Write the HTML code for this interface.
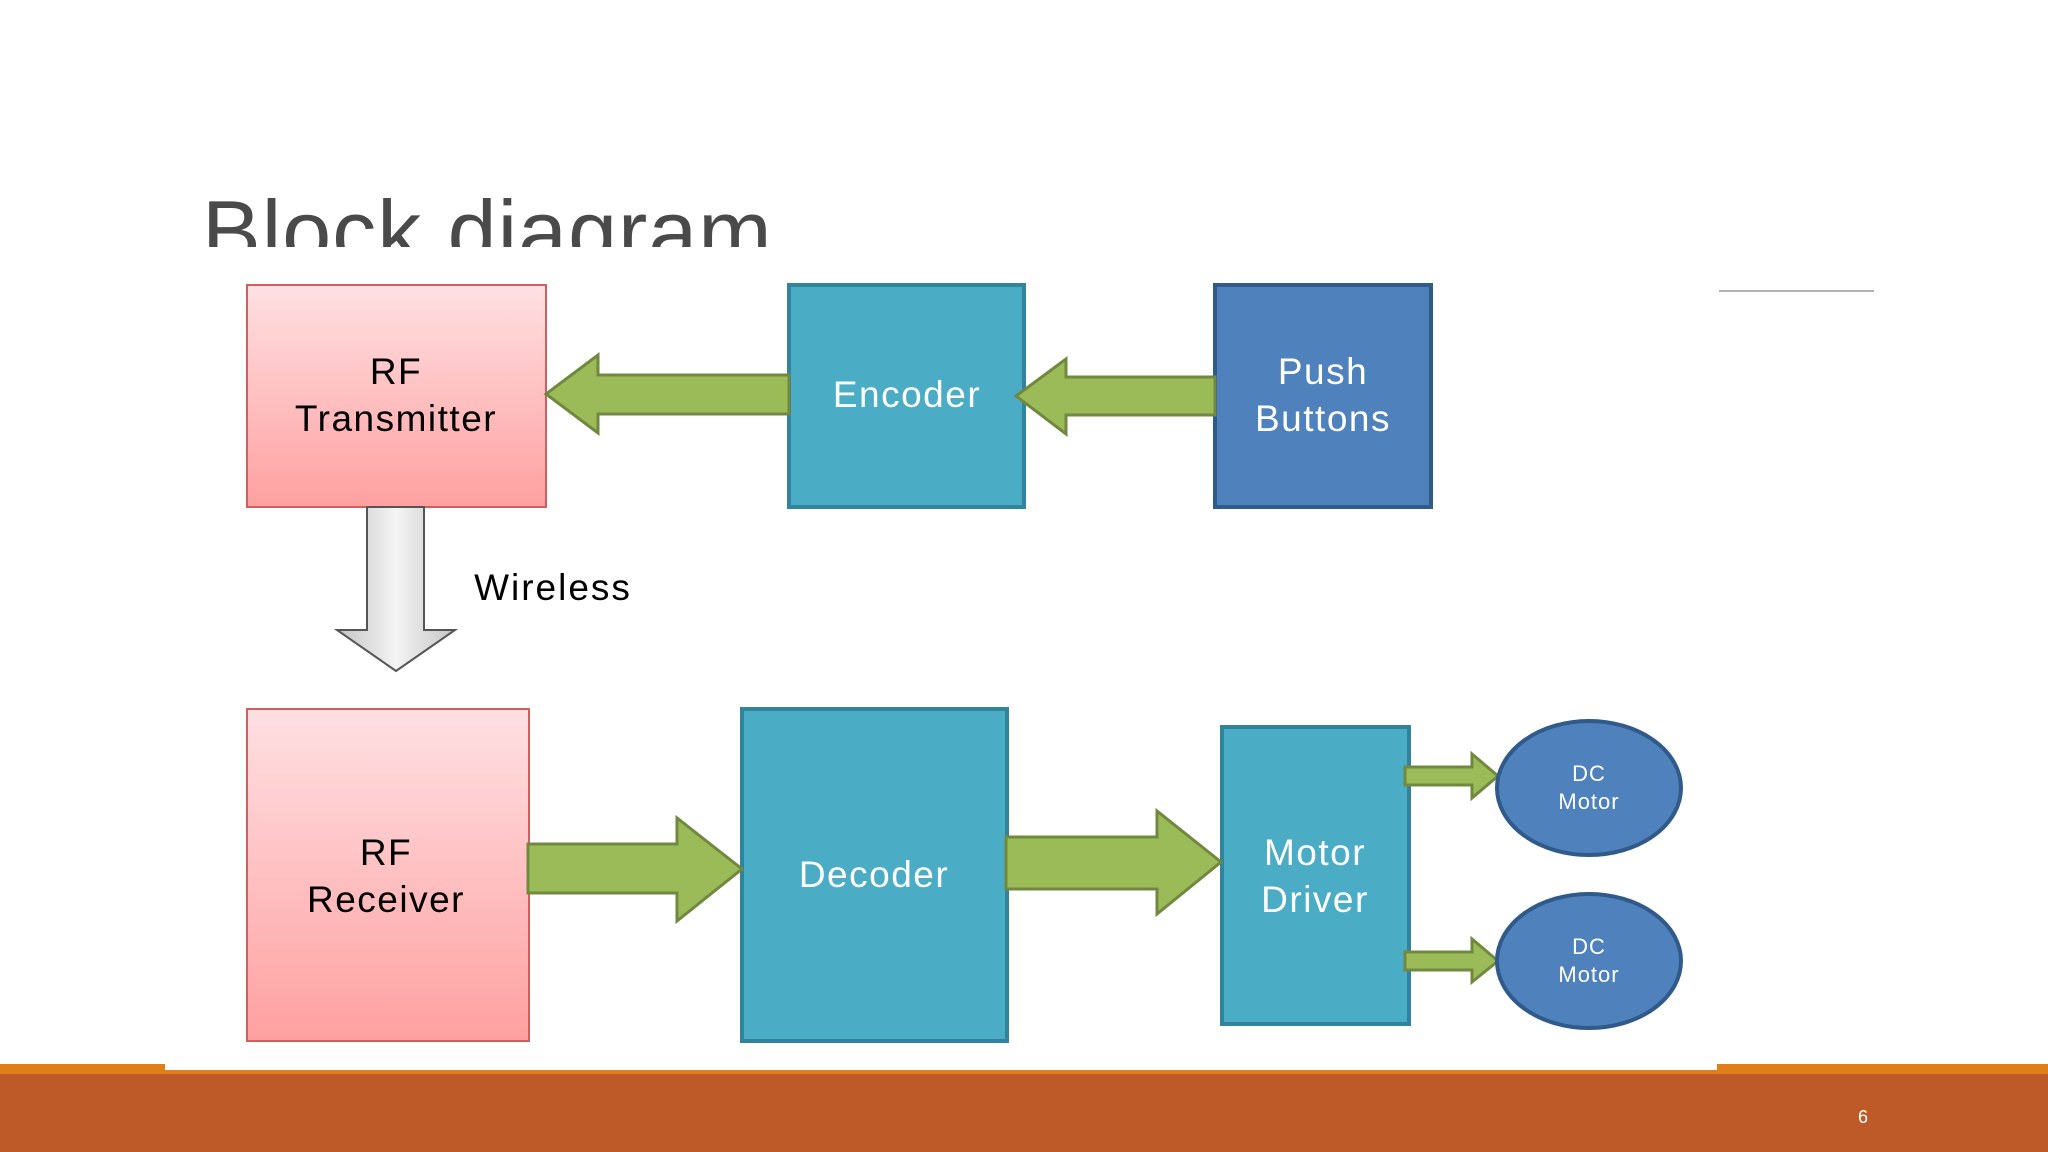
<!DOCTYPE html>
<html><head><meta charset="utf-8"><style>
html,body{margin:0;padding:0;}
body{width:2048px;height:1152px;overflow:hidden;background:#fff;position:relative;font-family:"Liberation Sans",sans-serif;}
</style></head><body>
<svg width="2048" height="1152" viewBox="0 0 2048 1152" style="position:absolute;left:0;top:0">
<defs>
<linearGradient id="pink" x1="0" y1="0" x2="0" y2="1"><stop offset="0" stop-color="#FFE0E3"/><stop offset="1" stop-color="#FFA0A0"/></linearGradient>
<linearGradient id="gray" x1="0" y1="0" x2="1" y2="0"><stop offset="0" stop-color="#c4c4c4"/><stop offset="0.5" stop-color="#f4f4f4"/><stop offset="1" stop-color="#c4c4c4"/></linearGradient>
<clipPath id="tc"><rect x="0" y="0" width="2048" height="247"/></clipPath>
</defs>
<text x="202" y="262" font-size="88" fill="#4a4a4a" clip-path="url(#tc)" font-family="Liberation Sans, sans-serif" letter-spacing="1">Block diagram</text>
<line x1="1719" y1="291" x2="1874" y2="291" stroke="#999" stroke-width="1.5"/>
<!-- bottom bar -->
<rect x="0" y="1064" width="2048" height="12" fill="#E07E1A"/>
<rect x="165" y="1064" width="1552" height="6" fill="#fff"/>
<rect x="0" y="1074" width="2048" height="78" fill="#BE5A28"/>
<text x="1858" y="1123" font-size="18" fill="#fff">6</text>

<g font-family="Liberation Sans, sans-serif" text-anchor="middle" font-size="37" letter-spacing="1.5">
<rect x="247" y="285" width="299" height="222" fill="url(#pink)" stroke="#D06060" stroke-width="2"/>
<text x="396" y="384" fill="#000">RF</text>
<text x="396" y="431" fill="#000">Transmitter</text>
<rect x="789" y="285" width="235" height="222" fill="#4BACC6" stroke="#31849B" stroke-width="4"/>
<text x="907" y="407" fill="#fff">Encoder</text>
<rect x="1215" y="285" width="216" height="222" fill="#4F81BD" stroke="#2F5A8A" stroke-width="4"/>
<text x="1323" y="384" fill="#fff">Push</text>
<text x="1323" y="431" fill="#fff">Buttons</text>
<polygon points="789,375 598,375 598,355 546,394 598,433 598,414 789,414" fill="#9BBB59" stroke="#71893F" stroke-width="3"/>
<polygon points="1215,377 1066,377 1066,359 1016,396 1066,434 1066,415 1215,415" fill="#9BBB59" stroke="#71893F" stroke-width="3"/>
<polygon points="367,507 424,507 424,630 455,630 396,671 337,630 367,630" fill="url(#gray)" stroke="#555" stroke-width="2"/>
<text x="553" y="600" fill="#000" font-size="37" letter-spacing="2">Wireless</text>
<rect x="247" y="709" width="282" height="332" fill="url(#pink)" stroke="#D06060" stroke-width="2"/>
<text x="386" y="865" fill="#000">RF</text>
<text x="386" y="912" fill="#000">Receiver</text>
<rect x="742" y="709" width="265" height="332" fill="#4BACC6" stroke="#31849B" stroke-width="4"/>
<text x="874" y="887" fill="#fff">Decoder</text>
<rect x="1222" y="727" width="187" height="297" fill="#4BACC6" stroke="#31849B" stroke-width="4"/>
<text x="1315" y="865" fill="#fff">Motor</text>
<text x="1315" y="912" fill="#fff">Driver</text>
<polygon points="528,844 677,844 677,818 742,869 677,921 677,893 528,893" fill="#9BBB59" stroke="#71893F" stroke-width="3"/>
<polygon points="1006,837 1157,837 1157,811 1221,862 1157,914 1157,889 1006,889" fill="#9BBB59" stroke="#71893F" stroke-width="3"/>
<polygon points="1405,767 1472,767 1472,754 1498,776 1472,798 1472,785 1405,785" fill="#9BBB59" stroke="#71893F" stroke-width="3"/>
<polygon points="1405,952 1472,952 1472,939 1498,961 1472,982 1472,970 1405,970" fill="#9BBB59" stroke="#71893F" stroke-width="3"/>
<ellipse cx="1589" cy="788" rx="92" ry="67" fill="#4F81BD" stroke="#2F5A8A" stroke-width="4"/>
<text x="1589" y="781" fill="#fff" font-size="22" letter-spacing="1">DC</text>
<text x="1589" y="809" fill="#fff" font-size="22" letter-spacing="1">Motor</text>
<ellipse cx="1589" cy="961" rx="92" ry="67" fill="#4F81BD" stroke="#2F5A8A" stroke-width="4"/>
<text x="1589" y="954" fill="#fff" font-size="22" letter-spacing="1">DC</text>
<text x="1589" y="982" fill="#fff" font-size="22" letter-spacing="1">Motor</text>
</g>
</svg>
</body></html>
